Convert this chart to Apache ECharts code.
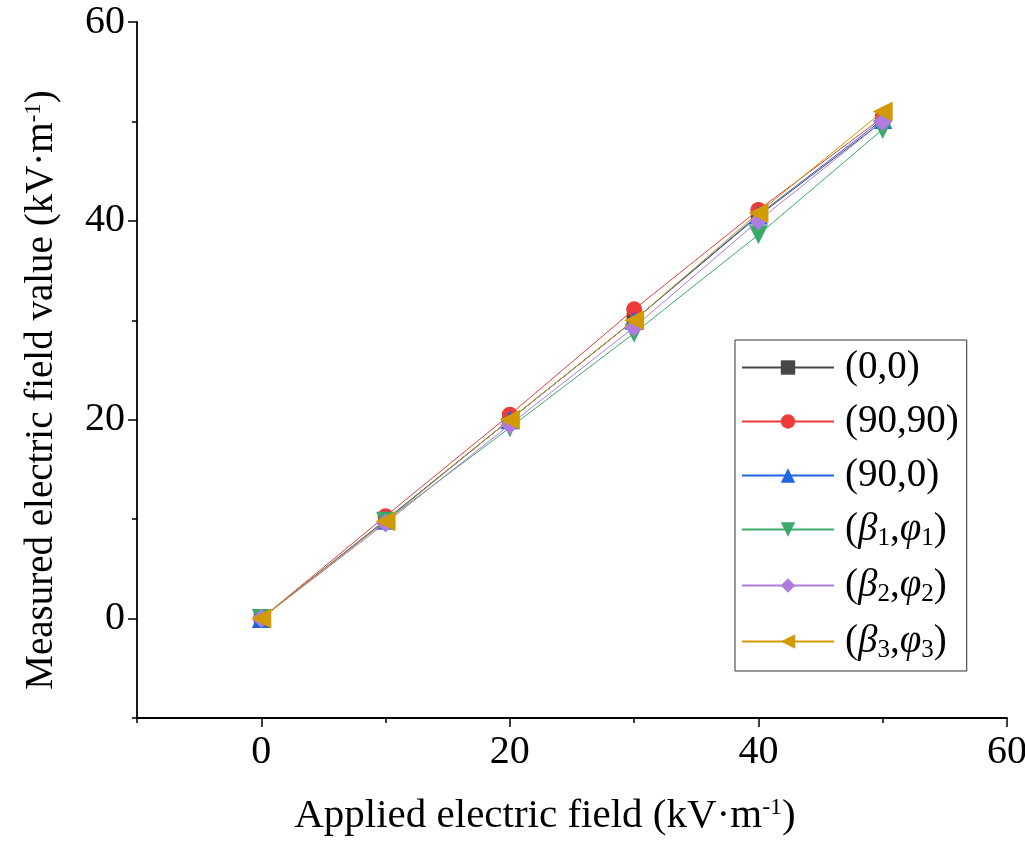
<!DOCTYPE html>
<html>
<head>
  <meta charset="UTF-8">
  <title>Measured vs applied electric field</title>
  <script src="https://cdn.jsdelivr.net/npm/echarts@6/dist/echarts.min.js"></script>
  <style>
    html, body { margin: 0; padding: 0; background: #fff; }
    #chart { width: 1025px; height: 841px; }
  </style>
</head>
<body>
  <div id="chart"></div>
  <script>
    // applied field (kV/m) and measured values for each orientation
    var applied = [0, 10, 20, 30, 40, 50];
    var s00   = [0, 9.9, 20.0, 30.0, 40.5, 50.0];
    var s9090 = [0, 10.3, 20.5, 31.1, 41.1, 50.4];
    var s900  = [0, 9.9, 20.0, 30.0, 40.6, 50.2];
    var sB1   = [0, 9.8, 19.2, 28.7, 38.6, 49.2];
    var sB2   = [0, 9.6, 19.5, 29.3, 40.0, 50.0];
    var sB3   = [0, 9.8, 20.0, 30.0, 40.8, 51.0];
    var majorTicks = [0, 20, 40, 60];

    var names = ['(0,0)', '(90,90)', '(90,0)', 'b1', 'b2', 'b3'];
    var legendText = {
      '(0,0)': '{n|(0,0)}',
      '(90,90)': '{n|(90,90)}',
      '(90,0)': '{n|(90,0)}',
      'b1': '{n|(}{i|β}{s|1}{n|,}{i|φ}{s|1}{n|)}',
      'b2': '{n|(}{i|β}{s|2}{n|,}{i|φ}{s|2}{n|)}',
      'b3': '{n|(}{i|β}{s|3}{n|,}{i|φ}{s|3}{n|)}'
    };
    var colors = ['#474747', '#ef3a3a', '#2066e0', '#3aaa6a', '#b07be0', '#d29b06'];
    var symbols = ['rect', 'circle', 'triangle', 'triangle', 'diamond', 'triangle'];
    var rotates = [0, 0, 0, 180, 0, 90];
    var sizes = [15, 16, 19, 19, 19, 20];
    var values = [s00, s9090, s900, sB1, sB2, sB3];

    var font = '"Liberation Serif", "DejaVu Serif", serif';

    // plot area: x -10..60, y -10..60
    var L = 137, R = 18, T = 22, B = 123;
    var W = 1025 - L - R, H = 841 - T - B;
    // second grid covering 0..60 only, for the long ticks at 0,20,40,60
    var L2 = L + W * 10 / 70, B2 = B + H * 10 / 70;

    function pairs(ys) {
      return applied.map(function (x, i) { return [x, ys[i]]; });
    }

    var series = names.map(function (n, k) {
      return {
        name: n, type: 'line', xAxisIndex: 0, yAxisIndex: 0,
        data: pairs(values[k]),
        symbol: symbols[k], symbolSize: sizes[k], symbolRotate: rotates[k],
        lineStyle: { color: colors[k], width: 1 },
        itemStyle: { color: colors[k] },
        emphasis: { disabled: true },
        z: 3 + k
      };
    });

    function axisName(size) {
      return {
        n: { fontFamily: font, fontSize: size, color: '#000' },
        sup: { fontFamily: font, fontSize: Math.round(size * 0.58), color: '#000', verticalAlign: 'top', padding: [0, 0, 16, 0] }
      };
    }
    var tickStyle = { color: '#000', width: 1.5 };

    var chart = echarts.init(document.getElementById('chart'));
    chart.setOption({
      animation: false,
      backgroundColor: '#fff',
      grid: [
        { left: L, right: R, top: T, bottom: B, outerBoundsMode: 'none' },
        { left: L2, right: R, top: T, bottom: B2, outerBoundsMode: 'none' }
      ],
      legend: {
        data: names,
        orient: 'vertical',
        left: 735, top: 340,
        padding: [8, 8, 8, 6],
        itemGap: 15,
        itemWidth: 92, itemHeight: 18,
        borderColor: '#333', borderWidth: 1,
        formatter: function (n) { return legendText[n]; },
        textStyle: {
          fontFamily: font, fontSize: 39, color: '#000', padding: [0, 0, 0, 6],
          rich: {
            n: { fontFamily: font, fontSize: 39, color: '#000' },
            i: { fontFamily: font, fontSize: 39, fontStyle: 'italic', color: '#000' },
            s: { fontFamily: font, fontSize: 25, color: '#000', padding: [18, 0, 0, 0] }
          }
        }
      },
      xAxis: [{
        type: 'value', gridIndex: 0, min: -10, max: 60, interval: 10,
        splitLine: { show: false },
        axisLine: { onZero: false, lineStyle: { color: '#000', width: 1.8 } },
        axisTick: { length: 5, lineStyle: tickStyle },
        axisLabel: { customValues: majorTicks, margin: 14, fontFamily: font, fontSize: 40, color: '#000' },
        name: '{n|Applied electric field (kV·m}{sup|-1}{n|)}',
        nameLocation: 'middle', nameGap: 78,
        nameTextStyle: { rich: axisName(41), padding: [0, 54, 0, 0] }
      }, {
        type: 'value', gridIndex: 1, min: 0, max: 60, interval: 20,
        position: 'bottom', offset: H * 10 / 70,
        splitLine: { show: false },
        axisLine: { show: false, onZero: false },
        axisTick: { show: true, length: 9, lineStyle: tickStyle },
        axisLabel: { show: false }
      }],
      yAxis: [{
        type: 'value', gridIndex: 0, min: -10, max: 60, interval: 10,
        splitLine: { show: false },
        axisLine: { show: true, onZero: false, lineStyle: { color: '#000', width: 1.8 } },
        axisTick: { show: true, length: 5, lineStyle: tickStyle },
        axisLabel: { customValues: majorTicks, margin: 12, fontFamily: font, fontSize: 40, color: '#000' },
        name: '{n|Measured electric field value (kV·m}{sup|-1}{n|)}',
        nameLocation: 'middle', nameGap: 76, nameRotate: 90,
        nameTextStyle: { rich: axisName(39), padding: [0, 40, 0, 0] }
      }, {
        type: 'value', gridIndex: 1, min: 0, max: 60, interval: 20,
        position: 'left', offset: W * 10 / 70,
        splitLine: { show: false },
        axisLine: { show: false, onZero: false },
        axisTick: { show: true, length: 9, lineStyle: tickStyle },
        axisLabel: { show: false }
      }],
      series: series
    });
  </script>
</body>
</html>
